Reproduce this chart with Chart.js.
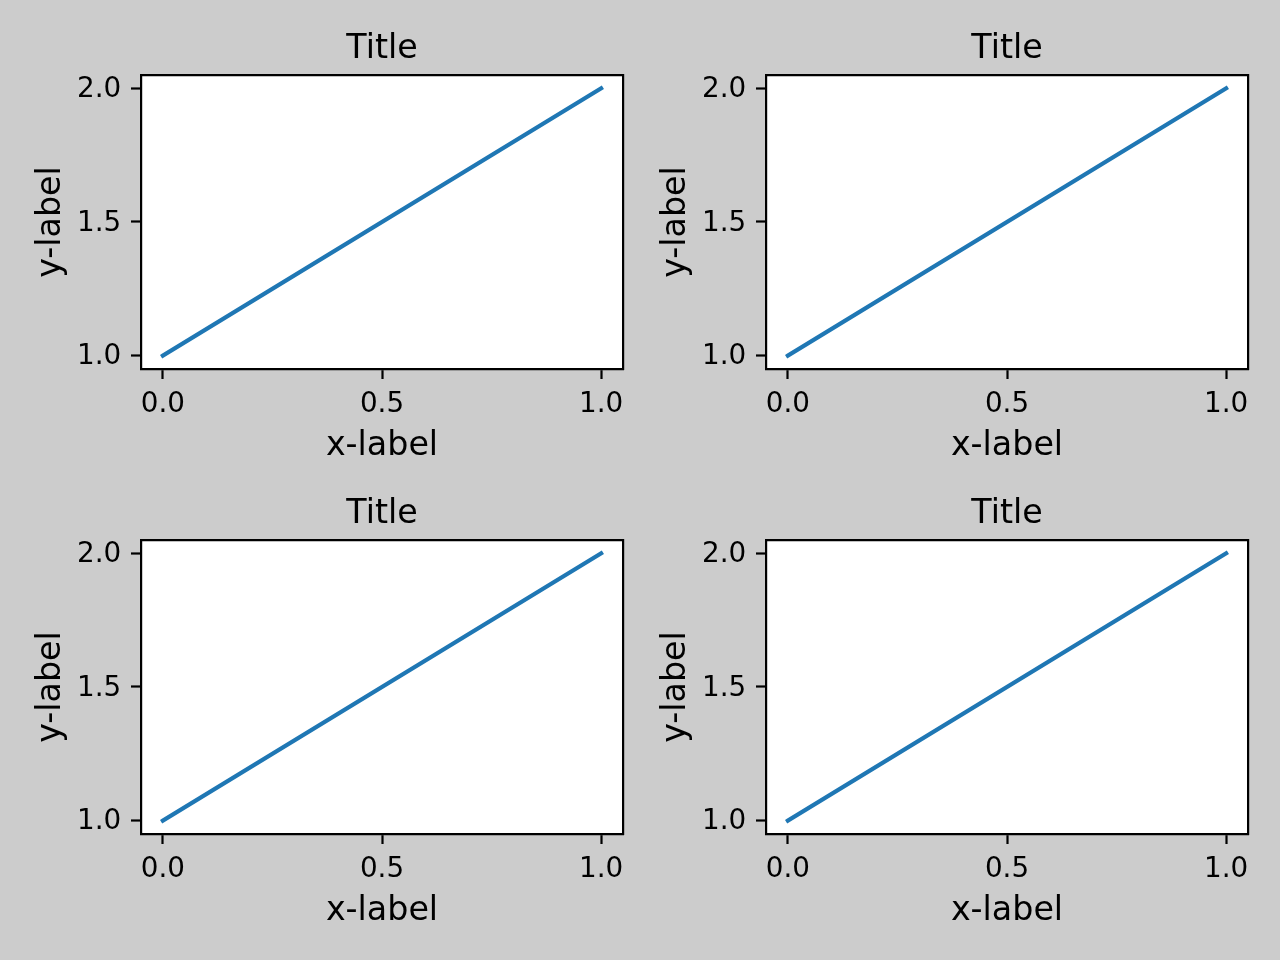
<!DOCTYPE html>
<html>
<head>
<meta charset="utf-8">
<title>Title x4</title>
<script src="https://cdn.jsdelivr.net/npm/chart.js@4.4.0/dist/chart.umd.min.js"></script>
<style>
  html, body { margin: 0; padding: 0; background: #cccccc; }
  body { width: 1280px; height: 960px; position: relative; overflow: hidden; }
  .panel { position: absolute; width: 640px; height: 480px; }
</style>
</head>
<body>
<div class="panel" style="left:0px;top:0px"><canvas id="ax0" width="640" height="480"></canvas></div>
<div class="panel" style="left:625px;top:0px"><canvas id="ax1" width="640" height="480"></canvas></div>
<div class="panel" style="left:0px;top:465px"><canvas id="ax2" width="640" height="480"></canvas></div>
<div class="panel" style="left:625px;top:465px"><canvas id="ax3" width="640" height="480"></canvas></div>
<script>
// Data for each subplot (all four panels plot the same line)
const xValues = [0, 1];
const yValues = [1, 2];
const xTicks = [0.0, 0.5, 1.0];
const yTicks = [1.0, 1.5, 2.0];
const xRange = [-0.05, 1.05];
const yRange = [0.95, 2.05];
const panelTitles = ['Title', 'Title', 'Title', 'Title'];
const xLabel = 'x-label';
const yLabel = 'y-label';

// Axes box inside each 640x480 canvas
const box = { left: 141, right: 623, top: 75, bottom: 369 };
const canvasW = 640;
const canvasH = 480;

const tickFont = { family: 'DejaVu Sans', size: 27.8 };
const labelFont = { family: 'DejaVu Sans', size: 33.3, lineHeight: 1.2 };
const ink = '#000000';

Chart.defaults.font.family = 'DejaVu Sans';
Chart.defaults.color = ink;

// White axes face behind the line
const axesBackground = {
    id: 'axesBackground',
    beforeDraw(chart) {
        const { ctx, chartArea: a } = chart;
        ctx.save();
        ctx.fillStyle = '#ffffff';
        ctx.fillRect(a.left, a.top, a.right - a.left, a.bottom - a.top);
        ctx.restore();
    }
};

function spine() {
    return { display: true, color: ink, width: 2.2 };
}

function makePanel(id, title) {
    const points = xValues.map((x, i) => ({ x: x, y: yValues[i] }));
    return new Chart(document.getElementById(id), {
        type: 'line',
        data: {
            datasets: [{
                data: points,
                borderColor: '#1f77b4',
                borderWidth: 4.2,
                borderCapStyle: 'square',
                pointRadius: 0,
                tension: 0,
                fill: false
            }]
        },
        options: {
            responsive: false,
            devicePixelRatio: 1,
            animation: false,
            events: [],
            layout: { padding: 0 },
            plugins: {
                legend: { display: false },
                tooltip: { enabled: false },
                title: { display: false }
            },
            scales: {
                x: {
                    type: 'linear',
                    position: 'bottom',
                    min: xRange[0],
                    max: xRange[1],
                    afterBuildTicks: s => { s.ticks = xTicks.map(v => ({ value: v })); },
                    afterFit: s => { s.height = canvasH - box.bottom; },
                    ticks: {
                        callback: v => v.toFixed(1),
                        font: tickFont,
                        color: ink,
                        padding: 9,
                        maxRotation: 0,
                        autoSkip: false
                    },
                    grid: {
                        display: true,
                        drawOnChartArea: false,
                        drawTicks: true,
                        tickLength: 10,
                        tickWidth: 2.2,
                        tickColor: ink
                    },
                    border: spine(),
                    title: {
                        display: true,
                        text: xLabel,
                        font: labelFont,
                        color: ink,
                        padding: { top: 0, bottom: 13.5 }
                    }
                },
                y: {
                    type: 'linear',
                    position: 'left',
                    min: yRange[0],
                    max: yRange[1],
                    afterBuildTicks: s => { s.ticks = yTicks.map(v => ({ value: v })); },
                    afterFit: s => { s.width = box.left; },
                    ticks: {
                        callback: v => v.toFixed(1),
                        font: tickFont,
                        color: ink,
                        padding: 9.7,
                        labelOffset: 1.5,
                        autoSkip: false
                    },
                    grid: {
                        display: true,
                        drawOnChartArea: false,
                        drawTicks: true,
                        tickLength: 10,
                        tickWidth: 2.2,
                        tickColor: ink
                    },
                    border: spine(),
                    title: {
                        display: true,
                        text: yLabel,
                        font: labelFont,
                        color: ink,
                        padding: { top: 31, bottom: 0 }
                    }
                },
                // top and right spines; the top one also carries the panel title
                xTop: {
                    type: 'linear',
                    position: 'top',
                    min: xRange[0],
                    max: xRange[1],
                    afterFit: s => { s.height = box.top; },
                    ticks: { display: false },
                    grid: { display: false },
                    border: spine(),
                    title: {
                        display: true,
                        text: title,
                        font: labelFont,
                        color: ink,
                        padding: { top: 29.8, bottom: 0 }
                    }
                },
                yRight: {
                    type: 'linear',
                    position: 'right',
                    min: yRange[0],
                    max: yRange[1],
                    afterFit: s => { s.width = canvasW - box.right; },
                    ticks: { display: false },
                    grid: { display: false },
                    border: spine()
                }
            }
        },
        plugins: [axesBackground]
    });
}

panelTitles.forEach((t, i) => makePanel('ax' + i, t));
</script>
</body>
</html>
